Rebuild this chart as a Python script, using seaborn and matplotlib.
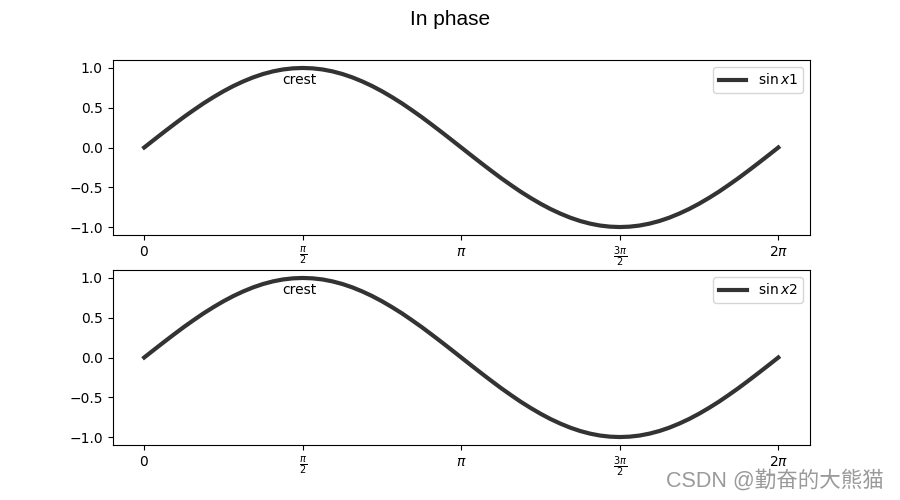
import numpy as np
import matplotlib
matplotlib.use("Agg")
import matplotlib.pyplot as plt
import seaborn as sns

# values, one per pi/32 step from 0 to 2*pi
y_values = [0.0, 0.098, 0.195, 0.290, 0.383, 0.471, 0.556, 0.634, 0.707,
            0.773, 0.831, 0.882, 0.924, 0.957, 0.981, 0.995, 1.0,
            0.995, 0.981, 0.957, 0.924, 0.882, 0.831, 0.773, 0.707,
            0.634, 0.556, 0.471, 0.383, 0.290, 0.195, 0.098, 0.0,
            -0.098, -0.195, -0.290, -0.383, -0.471, -0.556, -0.634, -0.707,
            -0.773, -0.831, -0.882, -0.924, -0.957, -0.981, -0.995, -1.0,
            -0.995, -0.981, -0.957, -0.924, -0.882, -0.831, -0.773, -0.707,
            -0.634, -0.556, -0.471, -0.383, -0.290, -0.195, -0.098, 0.0]
x_values = np.linspace(0, 2 * np.pi, len(y_values))
series_labels = [r"$\sin x$1", r"$\sin x$2"]
tick_positions = [0, np.pi / 2, np.pi, 3 * np.pi / 2, 2 * np.pi]
tick_labels = [r"$0$", r"$\frac{\pi}{2}$", r"$\pi$", r"$\frac{3\pi}{2}$", r"$2\pi$"]
title = "In phase"
note = "crest"
watermark = "CSDN @勤奋的大熊猫"

fig, axes = plt.subplots(2, 1, figsize=(9, 5), dpi=100)
for ax, lab in zip(axes, series_labels):
    sns.lineplot(x=x_values, y=y_values, ax=ax, color="#333333", linewidth=3,
                 label=lab)
    for ln in ax.get_lines():
        ln.set_solid_joinstyle("round")
    ax.set_xticks(tick_positions)
    ax.set_xticklabels(tick_labels)
    ax.set_ylim(-1.1, 1.1)
    ax.text(np.pi / 2 - 0.2, 0.8, note, fontsize=10)
    ax.legend(loc="upper right")
    ax.set_xlabel("")
    ax.set_ylabel("")

fig.suptitle(title, fontsize=15, family=["Liberation Sans", "DejaVu Sans"])
fig.text(0.982, 0.038, watermark, ha="right", va="center", fontsize=15.5,
         color="#9a9a9a", family=["Liberation Sans", "Noto Sans CJK SC"])
fig.savefig("out.png", dpi=100)
